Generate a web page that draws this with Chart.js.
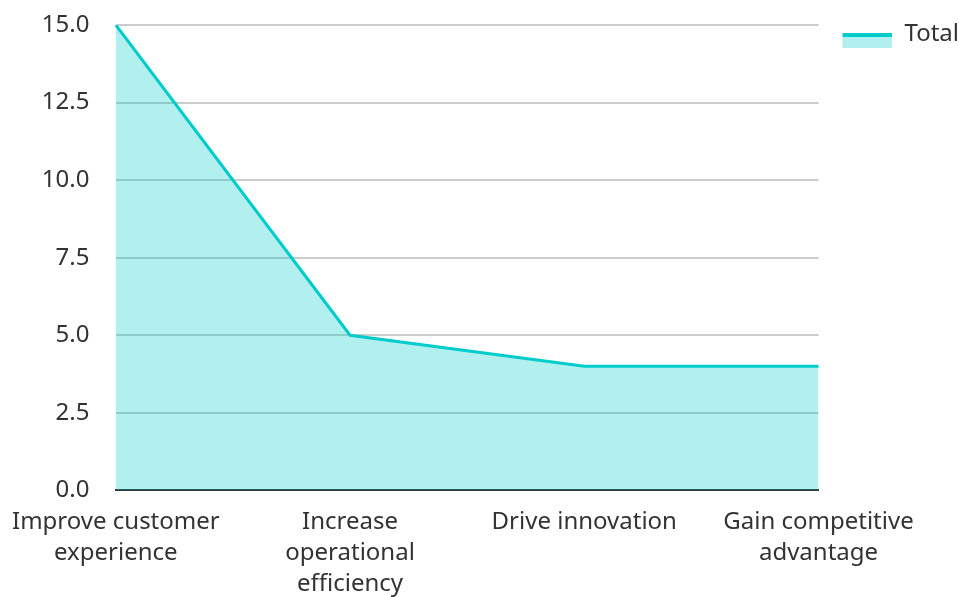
<!DOCTYPE html>
<html>
<head>
<meta charset="utf-8">
<script src="https://cdn.jsdelivr.net/npm/chart.js@4/dist/chart.umd.min.js"></script>
<style>
  html, body { margin: 0; padding: 0; background: #fff; }
  #wrap { width: 959px; height: 597px; }
</style>
</head>
<body>
<div id="wrap"><canvas id="c"></canvas></div>
<script>
var categories = [
    ['Improve customer', 'experience'],
    ['Increase', 'operational', 'efficiency'],
    'Drive innovation',
    ['Gain competitive', 'advantage']
];
var totalValues = [15, 5, 4, 4];
var seriesName = 'Total';
var yTicks = [0, 2.5, 5, 7.5, 10, 12.5, 15];

var lineColor = '#00cccc';
var fillColor = 'rgba(0, 204, 204, 0.3)';

// legend icon: thick line on top, fill under it (sits below the text middle)
function legendIcon() {
    var cv = document.createElement('canvas');
    cv.width = 62; cv.height = 30;
    var g = cv.getContext('2d');
    g.fillStyle = fillColor;
    g.fillRect(12, 14, 50, 15);
    g.fillStyle = lineColor;
    g.fillRect(12, 14, 50, 4);
    return cv;
}
var icon = legendIcon();

Chart.defaults.font.family = '"Noto Sans", sans-serif';
Chart.defaults.font.size = 24;
Chart.defaults.font.lineHeight = 1.3;
Chart.defaults.color = '#333';

new Chart(document.getElementById('c'), {
    type: 'line',
    data: {
        labels: categories,
        datasets: [{
            label: seriesName,
            data: totalValues,
            borderColor: lineColor,
            backgroundColor: fillColor,
            borderWidth: 3,
            fill: 'origin',
            tension: 0,
            pointRadius: 0
        }]
    },
    options: {
        responsive: true,
        maintainAspectRatio: false,
        animation: false,
        layout: { padding: { top: 10, right: -10, left: 10, bottom: -15 } },
        plugins: {
            legend: {
                position: 'right',
                align: 'start',
                labels: {
                    usePointStyle: true,
                    pointStyleWidth: 62,
                    boxHeight: 15,
                    padding: 12,
                    generateLabels: function(chart) {
                        return chart.data.datasets.map(function(ds, i) {
                            return {
                                text: ds.label,
                                pointStyle: icon,
                                fillStyle: fillColor,
                                strokeStyle: lineColor,
                                lineWidth: 0,
                                fontColor: '#333',
                                datasetIndex: i,
                                hidden: false
                            };
                        });
                    }
                }
            },
            tooltip: { enabled: false }
        },
        scales: {
            x: {
                offset: false,
                grid: { display: false, drawTicks: true, tickLength: 4 },
                border: { display: true, color: '#333', width: 2 },
                ticks: { padding: 12, maxRotation: 0, autoSkip: false }
            },
            y: {
                min: 0,
                max: 15,
                afterBuildTicks: function(axis) {
                    axis.ticks = yTicks.map(function(v) { return { value: v }; });
                },
                grid: { color: '#cccccc', lineWidth: 2, drawTicks: true, tickLength: 17, tickColor: 'rgba(0,0,0,0)' },
                border: { display: false },
                ticks: {
                    padding: 9.4,
                    callback: function(v) { return Number(v).toFixed(1); }
                }
            }
        }
    }
});
</script>
</body>
</html>
